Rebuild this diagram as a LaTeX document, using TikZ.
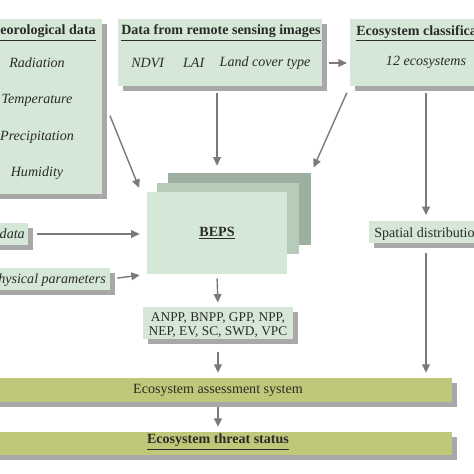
\documentclass[tikz,border=0pt]{standalone}
\usepackage{fontspec}
\setmainfont{Liberation Serif}
\usetikzlibrary{arrows.meta,shadows}
\definecolor{boxgreen}{HTML}{D5E8D7}
\definecolor{midgreen}{HTML}{B7CBB9}
\definecolor{backgreen}{HTML}{9DB09F}
\definecolor{olive}{HTML}{BFC878}
\definecolor{shadowgray}{HTML}{A8A8A8}
\definecolor{arrgray}{HTML}{7A7A7A}
\definecolor{ink}{HTML}{2A2A2A}
\tikzset{
  box/.style={fill=boxgreen,inner sep=0pt,draw=none,
    drop shadow={shadow xshift=3.5pt,shadow yshift=-3.5pt,fill=shadowgray,opacity=1}},
  bar/.style={box,fill=olive},
  layer/.style={inner sep=0pt,draw=none},
  txt/.style={inner sep=0pt,text=ink,font=\fontsize{10}{12}\selectfont},
  arr/.style={draw=arrgray,line width=1pt,-{Triangle[length=6pt,width=5.5pt]}}
}
\begin{document}
\begin{tikzpicture}[x=0.025cm,y=-0.025cm]
\useasboundingbox (0,0) rectangle (474,474);
\clip (0,0) rectangle (474,474);
% input boxes
\node[box,minimum width=3.3cm,minimum height=4.375cm] (met) at (36,106.5) {};
\node[box,minimum width=5.1cm,minimum height=1.675cm] (rs) at (220,52.5) {};
\node[box,minimum width=3.8cm,minimum height=1.675cm] (eco) at (426,52.5) {};
\node[box,minimum width=2.2cm,minimum height=0.55cm] (soil) at (-16,234) {};
\node[box,minimum width=4.25cm,minimum height=0.55cm] (phys) at (25,279) {};
\node[box,minimum width=3.775cm,minimum height=0.55cm] (spat) at (444.5,232) {};
% BEPS stack
\node[layer,fill=backgreen,minimum width=3.575cm,minimum height=1.8cm] (bepsback) at (239.5,209) {};
\node[layer,fill=midgreen,minimum width=3.55cm,minimum height=1.775cm] (bepsmid) at (228,218.5) {};
\node[layer,fill=boxgreen,minimum width=3.5cm,minimum height=2.05cm] (beps) at (217,233) {};
% outputs
\node[box,minimum width=3.75cm,minimum height=0.8cm] (out) at (218,323) {};
\node[bar,minimum width=11.8cm,minimum height=0.6cm] (assess) at (216,390) {};
\node[bar,minimum width=11.8cm,minimum height=0.575cm] (threat) at (216,443.5) {};
% texts
\node[txt,anchor=east] (metT) at (96,33) {\underline{\textbf{Meteorological data}}};
\node[txt] (rad) at (37,63) {\textit{Radiation}};
\node[txt] (temp) at (37,100) {\textit{Temperature}};
\node[txt] (prec) at (37,137) {\textit{Precipitation}};
\node[txt] (hum) at (37,173) {\textit{Humidity}};
\node[txt] (rsT) at (221,33) {\underline{\textbf{Data from remote sensing images}}};
\node[txt] (ndvi) at (148,63) {\textit{NDVI}};
\node[txt] (lai) at (194,63) {\textit{LAI}};
\node[txt] (lc) at (265,63) {\textit{Land cover type}};
\node[txt,anchor=west] (ecoT) at (356,33) {\underline{\textbf{Ecosystem classification}}};
\node[txt] (eco12) at (426,62) {\textit{12 ecosystems}};
\node[txt,anchor=east] (soilT) at (25,234) {\textit{Soil data}};
\node[txt,anchor=east] (physT) at (106,280) {\textit{Biophysical parameters}};
\node[txt] (bepsT) at (217,233) {\underline{\textbf{BEPS}}};
\node[txt,align=center,font=\fontsize{9.5}{10}\selectfont] (outT) at (218,325.5) {ANPP, BNPP, GPP, NPP,\\NEP, EV, SC, SWD, VPC};
\node[txt,anchor=west] (spatT) at (374,234) {Spatial distribution};
\node[txt] (assessT) at (218,390) {Ecosystem assessment system};
\node[txt] (threatT) at (218,442) {\underline{\textbf{Ecosystem threat status}}};
% connectors
\draw[arr,shorten <=5pt,shorten >=5pt] (beps.north |- rs.south) -- (beps.north |- bepsback.north);
\draw[arr,shorten <=5pt,shorten >=2pt] (rs.east |- lc) -- (eco.west |- lc);
\draw[arr,shorten <=5pt,shorten >=4pt] (eco.south west) -- (bepsback.north east);
\draw[arr,shorten <=7pt,shorten >=3pt] ([xshift=0.1cm]met.east) -- ([xshift=-0.15cm]beps.north west);
\draw[arr,shorten <=6.5pt,shorten >=5pt] (soil.east) -- (beps.west |- soil);
\draw[arr,shorten <=5pt,shorten >=5pt] (phys.east) -- (beps.south west);
\draw[arr,shorten <=3pt,shorten >=3pt] (beps.south) -- (out.north);
\draw[arr,shorten <=9pt,shorten >=3.5pt] (out.south) -- (out.south |- assess.north);
\draw[arr,shorten <=3.5pt,shorten >=3.5pt] (out.south |- assess.south) -- (out.south |- threat.north);
\draw[arr,shorten <=5pt,shorten >=4pt] (eco12 |- eco.south) -- (eco12 |- spat.north);
\draw[arr,shorten <=7pt,shorten >=3.5pt] (eco12 |- spat.south) -- (eco12 |- assess.north);
\end{tikzpicture}
\end{document}
